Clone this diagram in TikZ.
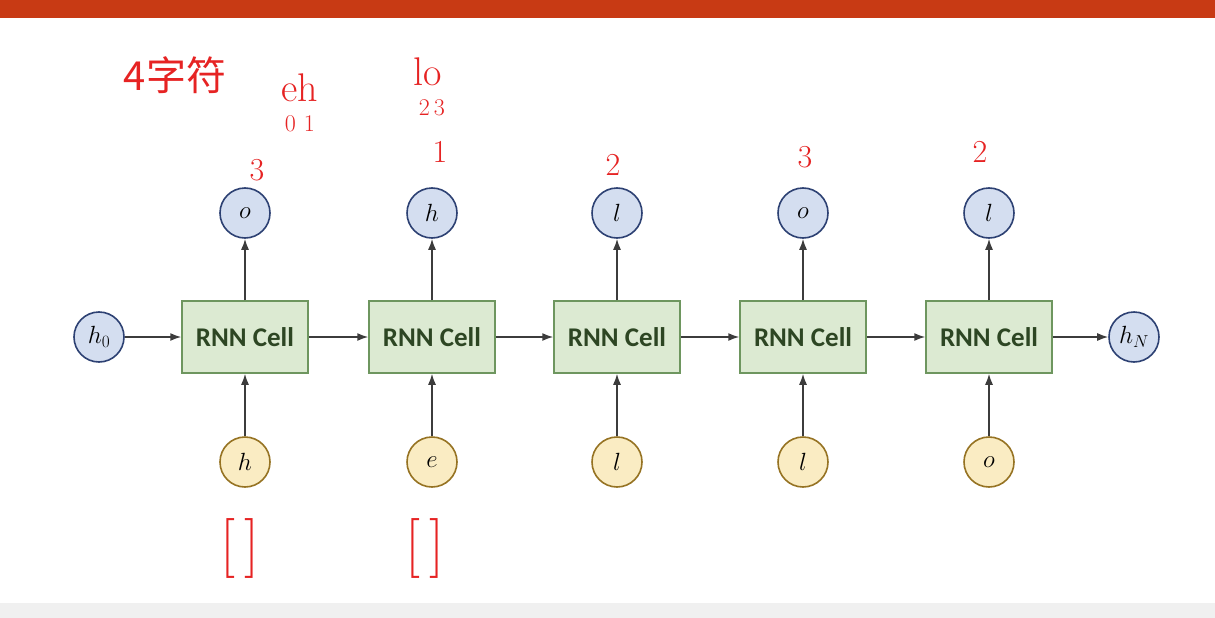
\documentclass[tikz,border=0pt]{standalone}
\usepackage{fontspec}
\newfontfamily\cellfont{Carlito}
\newfontfamily\cjk{Noto Sans CJK SC}
\usetikzlibrary{arrows.meta}
\begin{document}
\begin{tikzpicture}[x=1pt,y=-1pt,
  cell/.style={draw=cellb,fill=cellf,line width=1.5pt,minimum width=126pt,minimum height=72pt,font=\cellfont\bfseries\fontsize{27}{29}\selectfont,text=celltx},
  outc/.style={circle,draw=outb,fill=outf,line width=1.6pt,minimum size=50pt,inner sep=0pt,font=\fontsize{27}{29}\selectfont},
  inc/.style={circle,draw=inb,fill=inf,line width=1.6pt,minimum size=50pt,inner sep=0pt,font=\fontsize{27}{29}\selectfont},
  arr/.style={-{Latex[length=11pt,width=8pt]},line width=1.5pt,draw=arrc},
  ann/.style={text=annr,font=\fontsize{32}{34}\selectfont}]
\definecolor{cellb}{RGB}{110,150,95}\definecolor{cellf}{RGB}{220,234,210}\definecolor{celltx}{RGB}{45,70,35}
\definecolor{outb}{RGB}{45,65,115}\definecolor{outf}{RGB}{212,222,240}
\definecolor{inb}{RGB}{150,115,35}\definecolor{inf}{RGB}{250,236,195}
\definecolor{arrc}{RGB}{60,60,60}\definecolor{annr}{RGB}{230,35,35}
\definecolor{topbar}{RGB}{200,58,20}
\useasboundingbox (0,0) rectangle (1215,618);
\fill[white] (0,0) rectangle (1215,618);
\fill[topbar] (0,0) rectangle (1215,18);
\fill[black!6] (0,603) rectangle (1215,618);
\node[outc] (h0) at (99,337) {$h_0$};
\node[outc] (hN) at (1134,337) {$h_N$};
\foreach \i/\x/\o/\n in {1/245/o/h,2/432/h/e,3/617/l/l,4/803/o/l,5/989/l/o}{
  \node[cell] (c\i) at (\x,337) {RNN Cell};
  \node[outc] (o\i) at (\x,213) {$\o$};
  \node[inc] (x\i) at (\x,462) {$\n$};
  \draw[arr] (c\i) -- (o\i);
  \draw[arr] (x\i) -- (c\i);
}
\node[ann] (a1) at (257,170) {3};
\node[ann] (a2) at (440,152) {1};
\node[ann] (a3) at (613,165) {2};
\node[ann] (a4) at (805,157) {3};
\node[ann] (a5) at (980,152) {2};
\draw[arr] (h0) -- (c1);
\draw[arr] (c1) -- (c2);
\draw[arr] (c2) -- (c3);
\draw[arr] (c3) -- (c4);
\draw[arr] (c4) -- (c5);
\draw[arr] (c5) -- (hN);
\node[ann,font=\fontsize{60}{62}\selectfont] (b1) at (240,548) {[\,]};
\node[ann,font=\fontsize{60}{62}\selectfont] (b2) at (425,548) {[\,]};
\node[ann,font=\cjk\fontsize{40}{42}\selectfont] (t1) at (175,75) {4字符};
\node[ann,font=\fontsize{40}{42}\selectfont] (t2) at (300,88) {eh};
\node[ann,font=\fontsize{24}{26}\selectfont] (t3) at (300,124) {0\,\,1};
\node[ann,font=\fontsize{40}{42}\selectfont] (t4) at (428,72) {lo};
\node[ann,font=\fontsize{24}{26}\selectfont] (t5) at (432,108) {2\,3};
\end{tikzpicture}
\end{document}
